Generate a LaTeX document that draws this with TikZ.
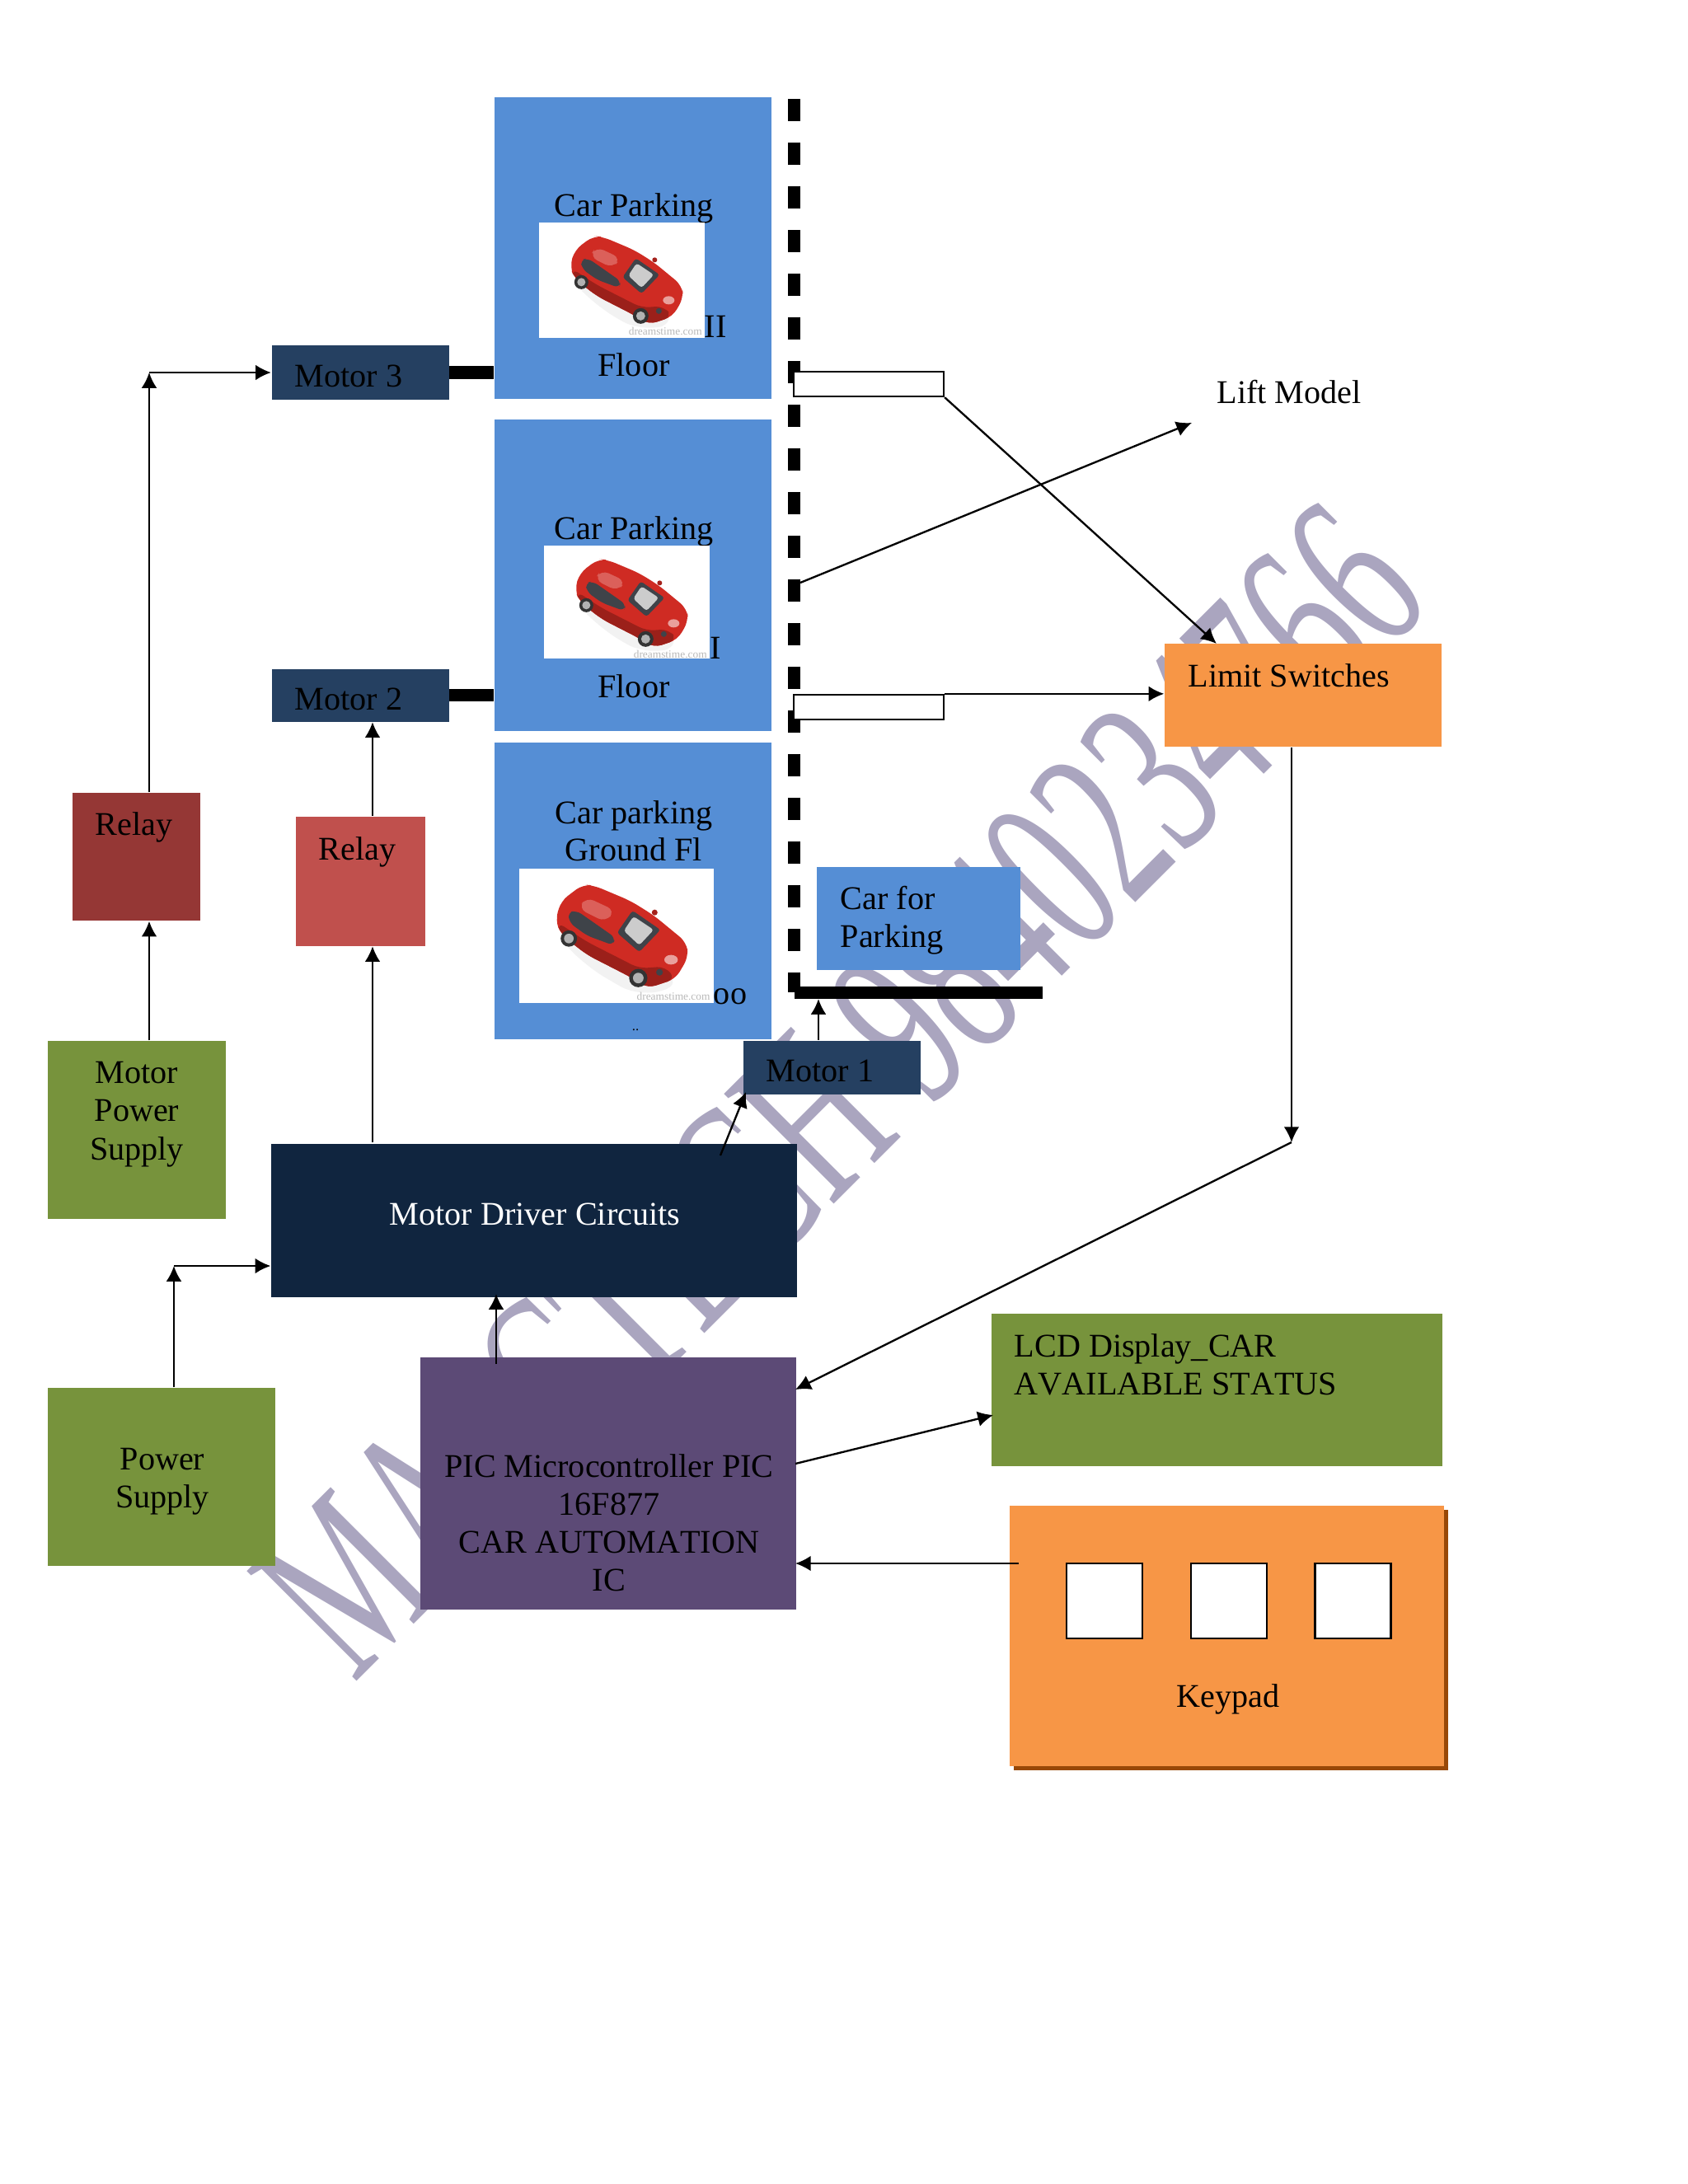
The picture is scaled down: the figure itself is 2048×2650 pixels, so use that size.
\documentclass[tikz,border=0pt]{standalone}
\usepackage{fontspec}
\setmainfont[Kerning=Off]{Liberation Serif}
\usetikzlibrary{arrows.meta}

\definecolor{floorblue}{HTML}{558ED5}
\definecolor{motornavy}{HTML}{254061}
\definecolor{drivernavy}{HTML}{10253F}
\definecolor{picpurple}{HTML}{5C4A76}
\definecolor{olive}{HTML}{77933C}
\definecolor{orangebox}{HTML}{F79646}
\definecolor{orangeedge}{HTML}{984807}
\definecolor{relaydark}{HTML}{953735}
\definecolor{relaylight}{HTML}{C0504D}
\definecolor{stamp}{HTML}{AAA5BF}
\definecolor{carred}{HTML}{CF2B23}
\definecolor{carglass}{HTML}{3F4349}

\tikzset{
    x=0.2988pt, y=-0.2988pt,
    box/.style n args={3}{fill=#3, inner sep=0pt, minimum width=#1*0.2988pt, minimum height=#2*0.2988pt},
    txt/.style={anchor=base, inner sep=0pt, font=\fontsize{12}{13.8}\selectfont},
    txtl/.style={txt, anchor=base west},
    conn/.style={line width=0.7pt, -{Latex[length=5.6pt,width=5.6pt]}},
    thickbar/.style={line width=4.5pt},
    slot/.style={draw=black, line width=0.7pt, fill=white, inner sep=0pt, minimum width=182*0.2988pt, minimum height=30*0.2988pt},
    keybtn/.style={draw=black, line width=0.7pt, fill=white, inner sep=0pt, minimum width=92*0.2988pt, minimum height=91*0.2988pt},
    redcar/.pic={
        % drawn from the top left corner of its white panel
        \fill[gray!10, rounded corners=8] (36,66) -- (70,102) -- (125,134) -- (172,120) -- (120,90) -- cycle;
        \fill[carred, rounded corners=3] (44,34) -- (66.5,17) -- (78,18) -- (116,34) -- (140,49) -- (174,77) -- (176,92)
            -- (162.5,115) -- (133.5,124.5) -- (116,113) -- (71,90) -- (44,69) -- (38,54) -- cycle;
        \fill[carred!75!black, rounded corners=3] (44,69) -- (71,90) -- (116,113) -- (133.5,124.5) -- (162.5,115) -- (152,102) -- (125,104) -- (70,76) -- (40,56) -- cycle;
        \fill[carglass, rounded corners=1] (102,67) -- (118,44) -- (147,64) -- (125,87) -- cycle;
        \fill[gray!40, rounded corners=1] (109,65) -- (119,50) -- (140,64) -- (125,80) -- cycle;
        \fill[carglass, rounded corners=2] (51,46) -- (60,44) -- (100,72) -- (98,80) -- (71,70) -- (53,57) -- cycle;
        \fill[carred!45!white] (158,95) ellipse (7 and 5);
        \fill[carred!75!white, rounded corners=3] (70,30) -- (100,44) -- (90,56) -- (62,42) -- cycle;
        \fill[carglass] (146,108) circle (3.5);
        \fill[carred!80!black] (141,46) circle (3);
        \fill[black!80] (52,73) circle (8.5);
        \fill[gray!60] (52,73) circle (5);
        \fill[black!80] (124,114) circle (9.5);
        \fill[gray!60] (124,114) circle (5.5);
        \node[text=gray!55, inner sep=0pt, anchor=east, font=\fontsize{4}{4}\selectfont] (mark) at (199,133) {dreamstime.com};
    }
}

\begin{document}
\begin{tikzpicture}

    \useasboundingbox (0,0) rectangle (2048,2650);

    % stamp across the whole page
    \node[text=stamp, inner sep=0pt, anchor=base, rotate=45, font=\fontsize{86}{90}\selectfont] (stampline) at (1085,1388)
        {\scalebox{0.602}[1]{MASCTECH 9840234766}};

    % floors
    \node[box={336}{366}{floorblue}] (floorC) at (768,301) {};
    \node[box={336}{378}{floorblue}] (floorB) at (768,698) {};
    \node[box={336}{360}{floorblue}] (floorA) at (768,1081) {};

    \node[txt] (capC) at (769,262) {Car Parking};
    \node[txt] (capB) at (769,654) {Car Parking};
    \node[txt] (capA) at (769,999) {Car parking};
    \node[txt] (groundA) at (769,1044) {Ground Fl};
    \node[txt] (levelC) at (769,456) {Floor};
    \node[txt] (levelB) at (769,846) {Floor};
    \node[txt] (numC) at (868,409) {II};
    \node[txt] (numB) at (868,799) {I};
    \node[txt] (restA) at (886,1218) {oo};
    \node[txt, font=\fontsize{5}{5}\selectfont] (dotsA) at (771,1250) {..};

    % car panels
    \node[box={201}{140}{white}] (panelC) at (754.5,340) {};
    \node[box={201}{137}{white}] (panelB) at (760.5,730.5) {};
    \node[box={236}{163}{white}] (panelA) at (748,1135.5) {};
    \pic at (panelC.north west) {redcar};
    \pic at (panelB.north west) {redcar};
    \pic[scale=1.17] at (panelA.north west) {redcar};

    % lift shaft
    \coordinate (shaftTop) at (963.5,120);
    \coordinate (shaftEnd) at (963.5,1204);
    \coordinate (bedL) at (964,1204.5);
    \coordinate (bedR) at (1265,1204.5);
    \draw[thickbar, dash pattern=on 8.07pt off 7.77pt] (shaftTop) -- (shaftEnd);
    \draw[thickbar] (bedL) -- (bedR);

    \node[box={247}{125}{floorblue}] (carbox) at (1114.5,1114.5) {};
    \node[txtl] (carline1) at (1019,1103) {Car for};
    \node[txtl] (carline2) at (1019,1149) {Parking};

    \node[slot] (slotC) at (1054,466) {};
    \node[slot] (slotB) at (1054,858) {};

    % motors
    \node[box={215}{66}{motornavy}] (motorC) at (437,452) {};
    \node[box={215}{64}{motornavy}] (motorB) at (437,843.5) {};
    \node[box={215}{65}{motornavy}] (motorA) at (1009.5,1295) {};
    \node[txtl] (motorCtxt) at (357,469) {Motor 3};
    \node[txtl] (motorBtxt) at (357,861) {Motor 2};
    \node[txtl] (motorAtxt) at (929,1312) {Motor 1};
    \draw[thickbar] (motorC.east) -- (floorC.west |- motorC.east);
    \draw[thickbar] (motorB.east) -- (floorB.west |- motorB.east);

    % relays and supplies
    \node[box={155}{155}{relaydark}] (relayC) at (165.5,1039.5) {};
    \node[box={157}{157}{relaylight}] (relayB) at (437,1069) {};
    \node[txtl] (relayCtxt) at (115,1013) {Relay};
    \node[txtl] (relayBtxt) at (386,1043) {Relay};

    \node[box={216}{216}{olive}] (motorpower) at (166,1371) {};
    \node[txt] (mp1) at (166,1314) {Motor};
    \node[txt] (mp2) at (166,1360) {Power};
    \node[txt] (mp3) at (166,1407) {Supply};

    \node[box={276}{216}{olive}] (power) at (196,1792) {};
    \node[txt] (pw1) at (197,1783) {Power};
    \node[txt] (pw2) at (197,1829) {Supply};

    % driver and controller
    \node[box={638}{186}{drivernavy}] (driver) at (648,1481) {};
    \node[txt, text=white] (drivertxt) at (649,1486) {Motor Driver Circuits};

    \node[box={456}{306}{picpurple}] (pic) at (738,1800) {};
    \node[txt] (pic1) at (739,1792) {PIC Microcontroller PIC};
    \node[txt] (pic2) at (739,1838) {16F877};
    \node[txt] (pic3) at (739,1884) {CAR AUTOMATION};
    \node[txt] (pic4) at (739,1930) {IC};

    % right column
    \node[box={336}{125}{orangebox}] (limit) at (1581,843.5) {};
    \node[txtl] (limittxt) at (1441,833) {Limit Switches};
    \node[txtl] (lifttxt) at (1476,489) {Lift Model};

    \node[box={547}{185}{olive}] (lcd) at (1476,1686.5) {};
    \node[txtl] (lcd1) at (1230,1646) {LCD Display\_CAR};
    \node[txtl] (lcd2) at (1230,1692) {AVAILABLE STATUS};

    \node[box={527}{316}{orangeedge}] (padshadow) at (1493,1989.5) {};
    \node[box={527}{316}{orangebox}] (keypad) at (1488.5,1985) {};
    \node[keybtn] (keyA) at (1340,1942.5) {};
    \node[keybtn] (keyB) at (1491,1942.5) {};
    \node[keybtn] (keyC) at (1641.5,1942.5) {};
    \node[txt] (keypadtxt) at (1490,2071) {Keypad};

    % free ends
    \coordinate (turnC) at (181,452);
    \coordinate (turnP) at (211,1536);
    \coordinate (turnL) at (1567,1386);
    \coordinate (liftFrom) at (971,707);
    \coordinate (liftTo) at (1446,513);
    \coordinate (limitIn) at (1476,781);
    \coordinate (picOut) at (965,1776);
    \coordinate (lcdIn) at (1205,1717);
    \coordinate (picIn) at (965,1686);
    \coordinate (picKey) at (965,1897);
    \coordinate (padOut) at (1236,1897);
    \coordinate (picUp) at (602,1655);
    \coordinate (driverIn) at (602,1570);
    \coordinate (driverOut) at (874,1402);
    \coordinate (motorIn) at (905,1325);
    \coordinate (driverTop) at (452,1386);
    \coordinate (bedIn) at (993,1212);

    % connectors
    \draw[conn] (relayC.north -| turnC) -- (turnC);
    \draw[conn] (turnC) -- (motorC.west);
    \draw[conn] (motorpower.north -| turnC) -- (relayC.south -| turnC);
    \draw[conn] (driverTop) -- (relayB.south -| driverTop);
    \draw[conn] (relayB.north -| driverTop) -- (motorB.south -| driverTop);
    \draw[conn] (power.north -| turnP) -- (turnP);
    \draw[conn] (turnP) -- (driver.west |- turnP);
    \draw[conn] (picUp) -- (driverIn);
    \draw[conn] (driverOut) -- (motorIn);
    \draw[conn] (motorA.north -| bedIn) -- (bedIn);
    \draw[conn] (liftFrom) -- (liftTo);
    \draw[conn] (slotC.south east) -- (limitIn);
    \draw[conn] (slotB.north east) -- (limit.west |- slotB.north east);
    \draw[conn] (limit.south -| turnL) -- (turnL);
    \draw[conn] (turnL) -- (picIn);
    \draw[conn] (picOut) -- (lcdIn);
    \draw[conn] (padOut) -- (picKey);

\end{tikzpicture}
\end{document}
